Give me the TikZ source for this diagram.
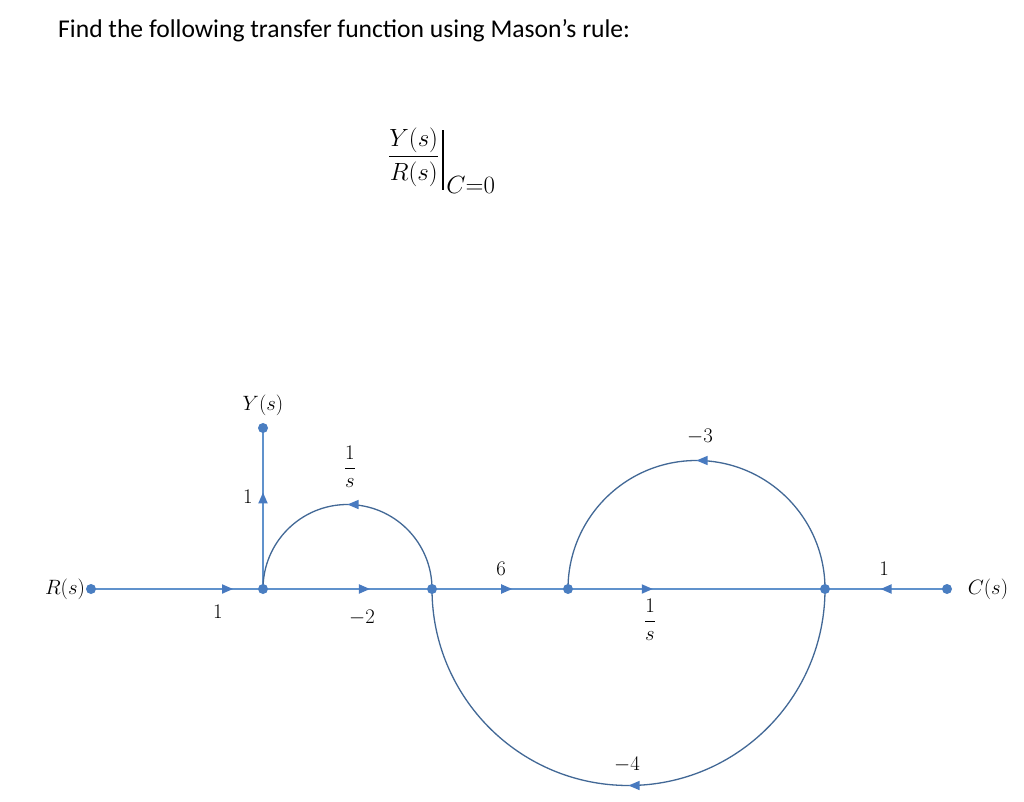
\documentclass[tikz,border=0pt]{standalone}
\usepackage{amsmath}
\usepackage{fontspec}
\newfontfamily\titlefont{Carlito}
\usetikzlibrary{decorations.markings,arrows.meta}
\pgfdeclarelayer{paper}
\pgfdeclarelayer{background}
\pgfsetlayers{paper,background,main}
\definecolor{lineblue}{RGB}{96,146,204}
\definecolor{arcblue}{RGB}{66,104,150}
\definecolor{dotblue}{RGB}{74,126,193}
\definecolor{tipblue}{RGB}{72,122,192}
\tikzset{
  dotnode/.style={circle,fill=dotblue,inner sep=0pt,minimum size=10pt},
  straight/.style={draw=lineblue,line width=1.8pt},
  arcline/.style={draw=arcblue,line width=1.3pt},
  tipat/.style={postaction={decorate},decoration={markings,mark=at position #1 with {\arrow[tipblue]{Triangle[length=11pt,width=9pt]}}}},
  lbl/.style={font=\fontsize{20}{24}\selectfont,inner sep=0pt},
}
\begin{document}
\begin{tikzpicture}[x=1pt,y=1pt]
\begin{pgfonlayer}{paper}
\fill[white] (0,0) rectangle (1024,801);
\end{pgfonlayer}
\useasboundingbox (0,0) rectangle (1024,801);
% title
\node[anchor=base west,inner sep=0pt,font=\titlefont\fontsize{25.6}{30}\selectfont] (title) at (58,763) {Find the following transfer function using Mason’s rule:};
\node[anchor=base west,inner sep=0pt,font=\fontsize{25}{30}\selectfont] (tf) at (388,638) {$\dfrac{Y(s)}{R(s)}\kern3pt\rule[-27pt]{2.2pt}{60pt}\kern2pt\raisebox{-31pt}{$C{=}0$}$};
% nodes
\node[dotnode] (R) at (91,212) {};
\node[dotnode] (A) at (263,212) {};
\node[dotnode] (Y) at (263,373) {};
\node[dotnode] (B) at (432,212) {};
\node[dotnode] (C) at (568,212) {};
\node[dotnode] (D) at (825,212) {};
\node[dotnode] (Cs) at (947,212) {};
% connectors
\begin{pgfonlayer}{background}
\draw[straight,tipat=0.826] (R.center) -- (A.center);
\draw[straight,tipat=0.60] (A.center) -- (Y.center);
\draw[straight,tipat=0.633] (A.center) -- (B.center);
\draw[straight,tipat=0.59] (B.center) -- (C.center);
\draw[straight,tipat=0.33] (C.center) -- (D.center);
\draw[straight,tipat=0.545] (Cs.center) -- (D.center);
\draw[arcline,tipat=0.5] (B.center) arc[start angle=0,end angle=180,radius=84.5];
\draw[arcline,tipat=0.5] (D.center) arc[start angle=0,end angle=180,radius=128.5];
\draw[arcline,tipat=0.5] (D.center) arc[start angle=0,end angle=-180,radius=196.5];
\end{pgfonlayer}
% labels
\node[lbl] (lR) at (65,212) {$R(s)$};
\node[lbl] (lC) at (988,212) {$C(s)$};
\node[lbl] (lY) at (263,396) {$Y(s)$};
\node[lbl] (g1) at (218,189) {$1$};
\node[lbl] (g2) at (248,304) {$1$};
\node[lbl] (g3) at (350,334) {$\dfrac{1}{s}$};
\node[lbl] (g4) at (362,183) {$-2$};
\node[lbl] (g5) at (501,232) {$6$};
\node[lbl] (g6) at (650,181) {$\dfrac{1}{s}$};
\node[lbl] (g7) at (700,364) {$-3$};
\node[lbl] (g8) at (627,36) {$-4$};
\node[lbl] (g9) at (884,232) {$1$};
\end{tikzpicture}
\end{document}
